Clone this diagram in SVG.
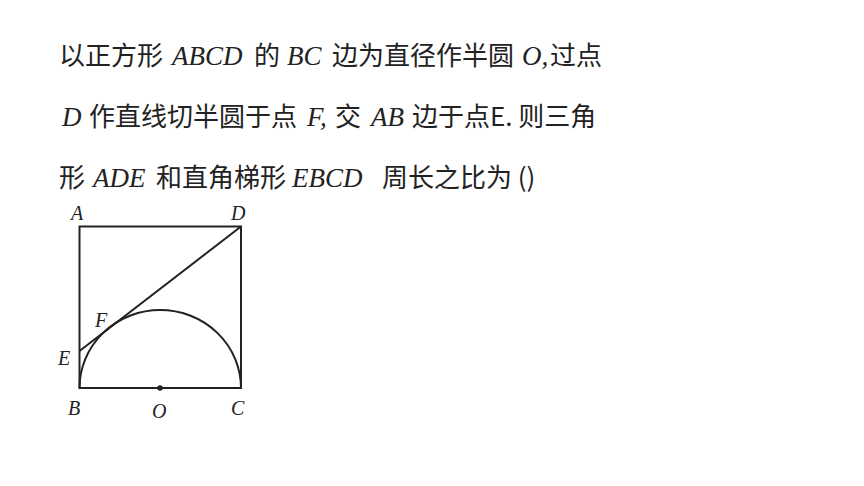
<svg xmlns="http://www.w3.org/2000/svg" width="864" height="486" viewBox="0 0 864 486">
<style>
.cjk{font-family:"Noto Sans CJK SC","Noto Sans",sans-serif;font-size:26px;fill:#222}
.m{font-family:"Liberation Serif","DejaVu Serif",serif;font-style:italic;font-size:27px;fill:#222}
.lbl{font-family:"Liberation Serif","DejaVu Serif",serif;font-style:italic;font-size:20px;fill:#222}
.ln{fill:none;stroke:#222;stroke-width:2}
</style>
<rect width="864" height="486" fill="#fff"/>
<g id="question">
<text y="65"><tspan class="cjk" x="59">以正方形</tspan><tspan class="m" x="172">ABCD</tspan><tspan class="cjk" x="254">的</tspan><tspan class="m" x="287">BC</tspan><tspan class="cjk" x="332">边为直径作半圆</tspan><tspan class="m" x="522">O,</tspan><tspan class="cjk" x="550">过点</tspan></text>
<text y="126"><tspan class="m" x="62">D</tspan><tspan class="cjk" x="89">作直线切半圆于点</tspan><tspan class="m" x="307">F,</tspan><tspan class="cjk" x="335">交</tspan><tspan class="m" x="371">AB</tspan><tspan class="cjk" x="412">边于点E. 则三角</tspan></text>
<text y="187"><tspan class="cjk" x="59">形</tspan><tspan class="m" x="93">ADE</tspan><tspan class="cjk" x="156">和直角梯形</tspan><tspan class="m" x="292">EBCD</tspan><tspan class="cjk" x="382">周长之比为 ()</tspan></text>
</g>
<g id="figure">
<rect class="ln" x="79.5" y="226.5" width="161.5" height="161.5"/>
<path class="ln" d="M79.5,388 A80.75,78 0 0 1 241,388"/>
<line class="ln" x1="241" y1="226.5" x2="79.5" y2="351"/>
<circle cx="160" cy="388" r="2.8" fill="#222"/>
</g>
<g id="labels">
<text class="lbl" x="71" y="220">A</text>
<text class="lbl" x="231" y="220">D</text>
<text class="lbl" x="95" y="327">F</text>
<text class="lbl" x="58" y="365">E</text>
<text class="lbl" x="68" y="415">B</text>
<text class="lbl" x="152" y="418">O</text>
<text class="lbl" x="231" y="415">C</text>
</g>
</svg>
